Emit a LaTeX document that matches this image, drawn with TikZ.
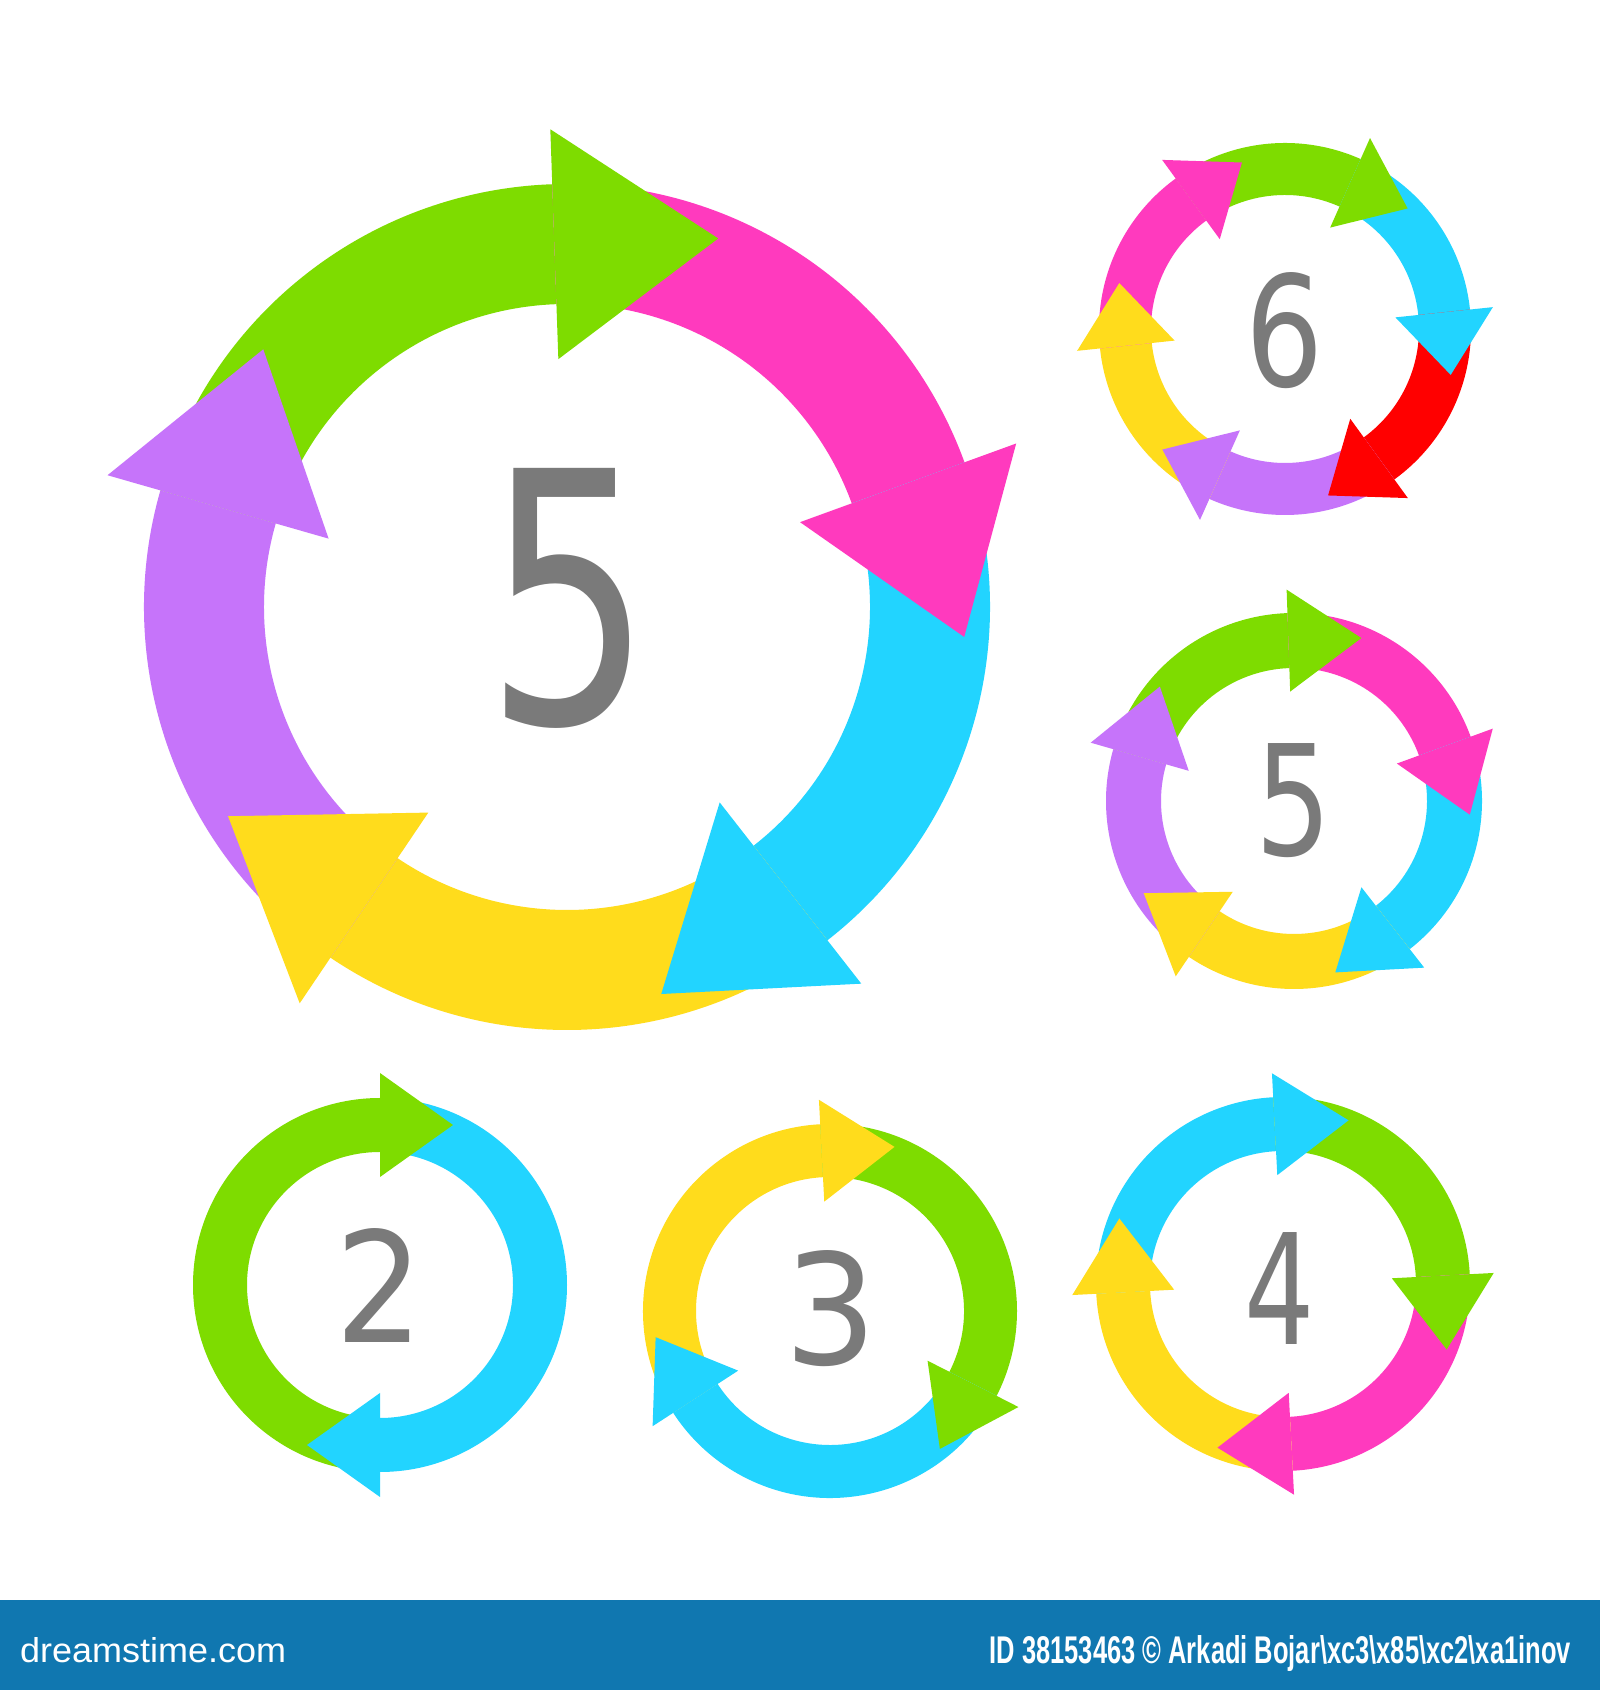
\documentclass[tikz,border=0pt]{standalone}
\usepackage{fontspec}
\setmainfont{DejaVu Sans}
\newfontfamily\creditfont{Liberation Sans}
\usetikzlibrary{calc}
\definecolor{cgreen}{RGB}{126,220,0}
\definecolor{cpink}{RGB}{255,58,190}
\definecolor{ccyan}{RGB}{34,212,255}
\definecolor{cyellow}{RGB}{255,220,28}
\definecolor{cpurple}{RGB}{198,116,250}
\definecolor{cred}{RGB}{255,0,0}
\definecolor{cgray}{RGB}{122,122,122}
\definecolor{cbanner}{RGB}{16,119,176}
% #1 name, #2 cx, #3 cy, #4 outer radius, #5 inner radius, #6 number of arrows,
% #7 first head angle (clockwise on screen), #8 head half width, #9 head length
\newcommand\arrowring[9]{%
  \coordinate (#1) at (#2,#3);
  \pgfmathsetmacro\rmid{(#4+#5)/2}%
  \pgfmathsetmacro\stp{360/#6}%
  \pgfmathsetmacro\ro{\rmid+#8}%
  \pgfmathsetmacro\ri{\rmid-#8}%
  \foreach \col [count=\k from 0] in \ringcolors {%
    \pgfmathsetmacro\pe{-(#7+\k*\stp)}%
    \pgfmathsetmacro\ps{\pe+\stp}%
    \fill[\col] ($(#1)+(\ps:#4pt)$) arc[start angle=\ps, end angle=\pe, radius=#4pt]
       -- ($(#1)+(\pe:#5pt)$) arc[start angle=\pe, end angle=\ps, radius=#5pt] -- cycle;
  }
  \foreach \col [count=\k from 0] in \ringcolors {%
    \pgfmathsetmacro\pe{-(#7+\k*\stp)}%
    \pgfmathsetmacro\pdir{\pe-90}%
    \fill[\col] ($(#1)+(\pe:\ro pt)$) -- ($(#1)+(\pe:\rmid pt)+(\pdir:#9pt)$)
       -- ($(#1)+(\pe:\ri pt)$) -- cycle;
  }
}
\tikzset{
  digit/.style={text=cgray, inner sep=0pt, font=\fontsize{153.6}{160}\selectfont},
  bannertext/.style={text=white, inner sep=0pt}
}
\begin{document}
\begin{tikzpicture}[x=1pt,y=1pt]
\useasboundingbox (0,0) rectangle (1600,1690);
\fill[white] (0,0) rectangle (1600,1690);
% banner
\fill[cbanner] (0,0) rectangle (1600,90);
\node[bannertext, anchor=base west] (logo) at (20,27) {\resizebox{266pt}{25pt}{\creditfont dreamstime.com}};
\node[bannertext, anchor=base east] (credit) at (1571,26) {\resizebox{581pt}{28pt}{\creditfont\bfseries ID 38153463 © Arkadi Bojar\textbackslash xc3\textbackslash x85\textbackslash xc2\textbackslash xa1inov}};
% big ring
\def\ringcolors{cgreen,cpink,ccyan,cyellow,cpurple}
\arrowring{big}{567}{1083}{423}{303}{5}{-92}{115}{164}
\node[digit, font=\fontsize{350}{360}\selectfont] (bigfive) at (569.5,1091.5) {\scalebox{0.75}[1]{5}};
% six ring
\def\ringcolors{cgreen,ccyan,cred,cpurple,cyellow,cpink}
\arrowring{six}{1285}{1361}{186}{134}{6}{-66}{49}{63}
\node[digit] (sixd) at (1284.5,1359) {\scalebox{0.8}[1]{6}};
% five ring
\def\ringcolors{cgreen,cpink,ccyan,cyellow,cpurple}
\arrowring{five}{1294}{889}{188}{133}{5}{-92}{51}{73}
\node[digit] (fived) at (1294,889) {\scalebox{0.78}[1]{5}};
% two ring
\def\ringcolors{cgreen,ccyan}
\arrowring{two}{380}{405}{187}{133}{2}{-90}{52}{73}
\node[digit] (twod) at (379,404) {\scalebox{0.9}[1]{2}};
% three ring
\def\ringcolors{cyellow,cgreen,ccyan}
\arrowring{three}{830}{379}{187}{134}{3}{-93}{51}{73}
\node[digit] (threed) at (831,381) {\scalebox{0.95}[1]{3}};
% four ring
\def\ringcolors{ccyan,cgreen,cpink,cyellow}
\arrowring{four}{1283}{406}{187}{133}{4}{-93}{51}{74}
\node[digit] (fourd) at (1280,401) {\scalebox{0.72}[1]{4}};
\end{tikzpicture}
\end{document}
